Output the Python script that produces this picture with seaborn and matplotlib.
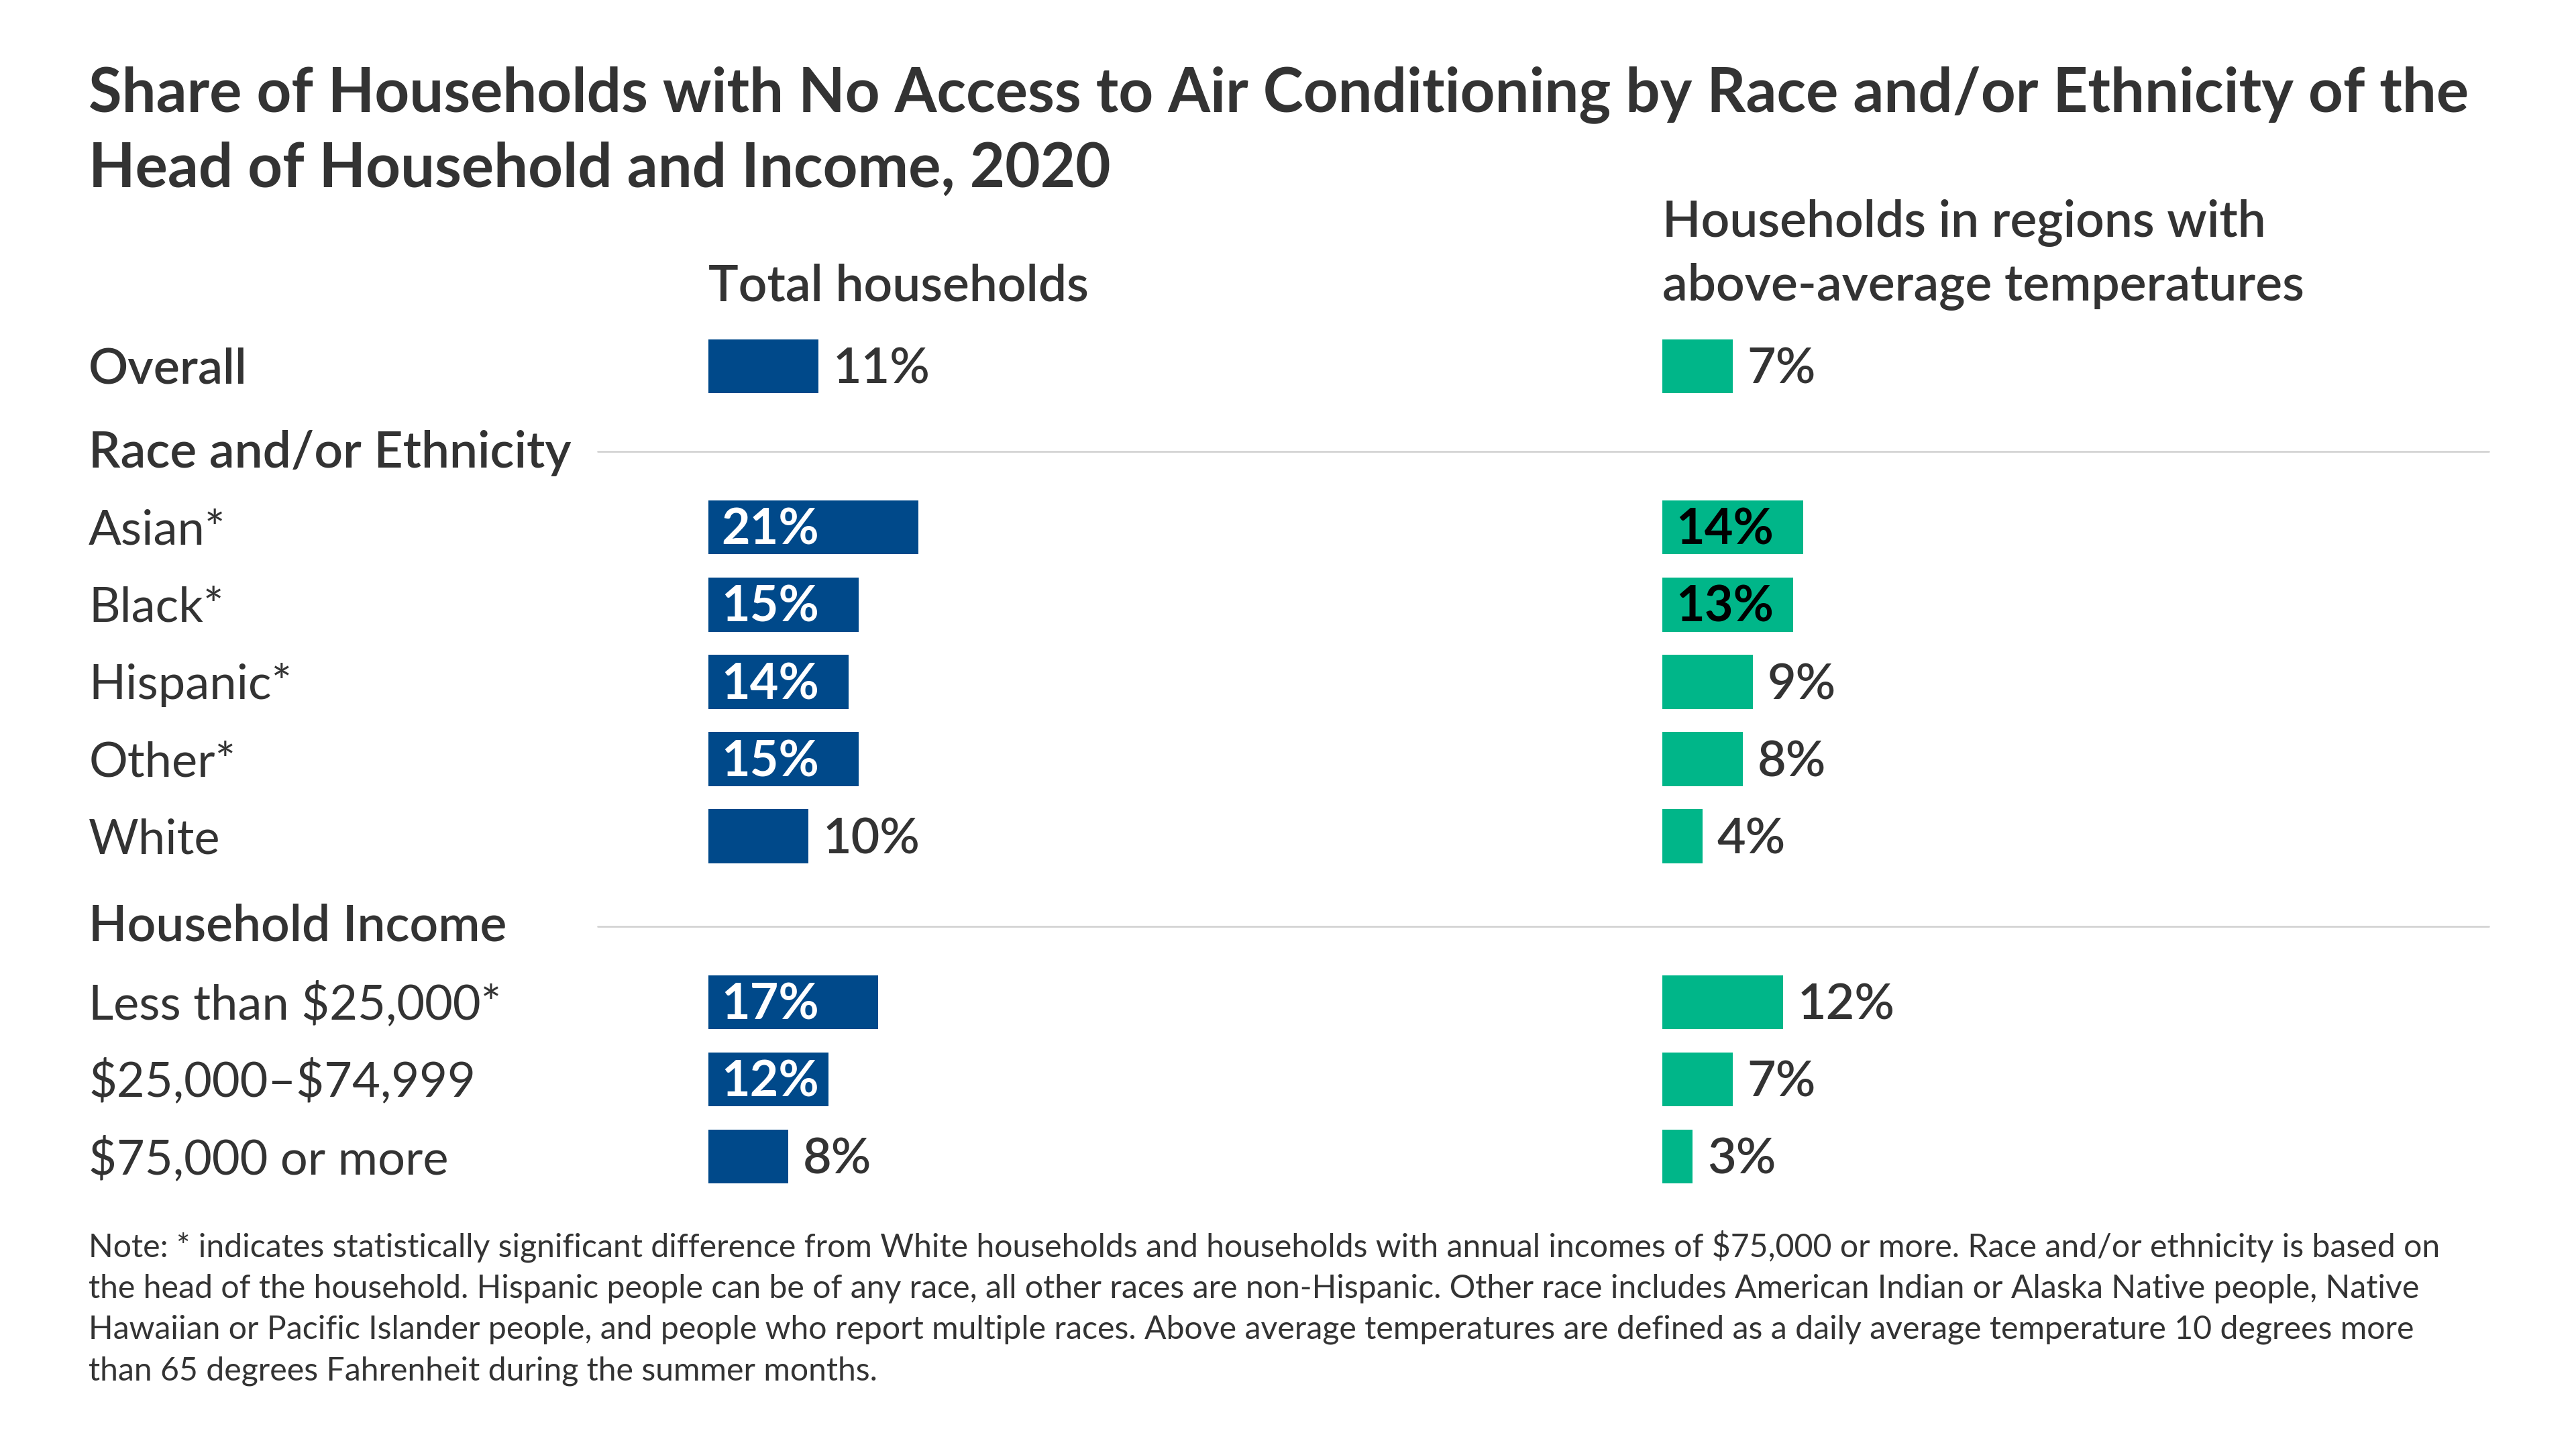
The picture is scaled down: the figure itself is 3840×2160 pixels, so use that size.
import matplotlib
matplotlib.use("Agg")
import matplotlib.pyplot as plt
import seaborn as sns
import pandas as pd
from matplotlib.lines import Line2D

sns.set_theme(style="white")
plt.rcParams['font.family'] = ['Lato', 'DejaVu Sans']

# ---------------- data ----------------
categories = ["Overall", "Asian*", "Black*", "Hispanic*", "Other*", "White",
              "Less than $25,000*", "$25,000–$74,999", "$75,000 or more"]
total_pct = [11, 21, 15, 14, 15, 10, 17, 12, 8]
hot_pct = [7, 14, 13, 9, 8, 4, 12, 7, 3]
section_labels = ["Race and/or Ethnicity", "Household Income"]
col_left_title = "Total households"
col_right_title = ["Households in regions with", "above-average temperatures"]
title_lines = ["Share of Households with No Access to Air Conditioning by Race and/or Ethnicity of the",
               "Head of Household and Income, 2020"]
note_lines = [
    "Note: * indicates statistically significant difference from White households and households with annual incomes of $75,000 or more. Race and/or ethnicity is based on",
    "the head of the household. Hispanic people can be of any race, all other races are non-Hispanic. Other race includes American Indian or Alaska Native people, Native",
    "Hawaiian or Pacific Islander people, and people who report multiple races. Above average temperatures are defined as a daily average temperature 10 degrees more",
    "than 65 degrees Fahrenheit during the summer months.",
]

# ---------------- layout (reference units) ----------------
W, H = 1568.0, 882.0
row_y = [223, 321, 368, 415, 462, 509, 610, 657, 704]
section_y = [274, 562]
sep_y = [275, 564]
PX_PER_PCT = 6.1
LEFT_X0, LEFT_X1 = 431, 1000
RIGHT_X0, RIGHT_X1 = 1012, 1545

BLUE = "#00498A"
GREEN = "#00B689"
TEXT = "#333333"

fig = plt.figure(figsize=(38.4, 21.6), dpi=100)
fig.patch.set_facecolor("white")

def fx(x):
    return x / W

def fy(y):
    return 1 - y / H

def make_axes(x0, x1):
    ax = fig.add_axes([fx(x0), 0, fx(x1) - fx(x0), 1])
    ax.set_axis_off()
    return ax

df = pd.DataFrame({"cat": categories, "y": row_y, "total": total_pct, "hot": hot_pct})

axL = make_axes(LEFT_X0, LEFT_X1)
sns.barplot(data=df, x="total", y="y", orient="h", native_scale=True, width=0.70,
            color=BLUE, saturation=1, errorbar=None, linewidth=0, ax=axL)
axL.set_xlim(0, (LEFT_X1 - LEFT_X0) / PX_PER_PCT)
axL.set_ylim(H, 0)
axL.set_axis_off()

axR = make_axes(RIGHT_X0, RIGHT_X1)
sns.barplot(data=df, x="hot", y="y", orient="h", native_scale=True, width=0.70,
            color=GREEN, saturation=1, errorbar=None, linewidth=0, ax=axR)
axR.set_xlim(0, (RIGHT_X1 - RIGHT_X0) / PX_PER_PCT)
axR.set_ylim(H, 0)
axR.set_axis_off()

LABEL_FS = 53
ROW_FS = 52
HEAD_FS = 54
CAP_OFF = 10.5  # baseline offset below row center (reference units)
pad = 8 / PX_PER_PCT

def value_labels(ax, vals, inside_min, inside_color):
    for v, y in zip(vals, row_y):
        if v >= inside_min:
            ax.text(pad, y + CAP_OFF, f"{v}%", ha="left", va="baseline",
                    fontsize=LABEL_FS, fontweight="bold", color=inside_color)
        else:
            ax.text(v + pad * 1.1, y + CAP_OFF, f"{v}%", ha="left", va="baseline",
                    fontsize=LABEL_FS, fontweight="semibold", color=TEXT)

value_labels(axL, total_pct, 12, "white")
value_labels(axR, hot_pct, 13, "black")

# row labels
for i, (c, y) in enumerate(zip(categories, row_y)):
    fig.text(fx(54), fy(y + CAP_OFF), c, ha="left", va="baseline",
             fontsize=LABEL_FS if i == 0 else ROW_FS,
             fontweight="semibold" if i == 0 else "normal", color=TEXT, parse_math=False)

# section headers and separators
for s, y in zip(section_labels, section_y):
    fig.text(fx(54), fy(y + CAP_OFF), s, ha="left", va="baseline", fontsize=HEAD_FS,
             fontweight="semibold", color=TEXT)
for y in sep_y:
    fig.add_artist(Line2D([fx(364), fx(1515)], [fy(y), fy(y)], transform=fig.transFigure,
                          color="#d4d4d4", linewidth=2.0))

# column headers
fig.text(fx(431), fy(183), col_left_title, ha="left", va="baseline", fontsize=HEAD_FS,
         fontweight="semibold", color=TEXT)
fig.text(fx(1012), fy(144), col_right_title[0], ha="left", va="baseline", fontsize=HEAD_FS,
         fontweight="semibold", color=TEXT)
fig.text(fx(1012), fy(183), col_right_title[1], ha="left", va="baseline", fontsize=HEAD_FS,
         fontweight="semibold", color=TEXT)

# title
for t, yb in zip(title_lines, [68, 114]):
    fig.text(fx(54), fy(yb), t, ha="left", va="baseline", fontsize=65.2,
             fontweight="bold", color=TEXT)

# note
for t, yb in zip(note_lines, [765, 790, 815, 840]):
    fig.text(fx(54), fy(yb), t, ha="left", va="baseline", fontsize=34.7,
             fontweight="normal", color=TEXT, parse_math=False)

fig.savefig("out.png", dpi=100, facecolor="white")
